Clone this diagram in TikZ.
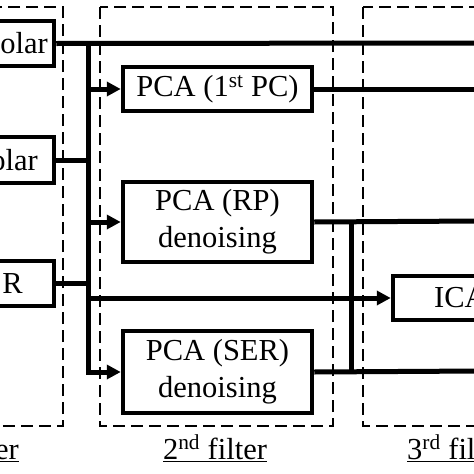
\documentclass[tikz,border=0pt]{standalone}
\usepackage{fontspec}
\setmainfont{Liberation Serif}
\usetikzlibrary{arrows.meta}

\begin{document}
\begin{tikzpicture}[x=1pt,y=-1pt]
\tikzstyle{every node}+=[inner sep=0pt, font=\fontsize{30.5}{37}\selectfont]
\tikzstyle{block}=[draw=black, line width=4.5pt, align=center]
\tikzstyle{filterbox}=[draw=black, line width=1.6pt, dash pattern=on 12pt off 6pt]
\tikzstyle{wire}=[draw=black, line width=5pt]
\tikzstyle{feed}=[wire, -{Triangle[length=14pt,width=14pt]}]
\clip (0,0) rectangle (474,474);
\fill [white] (0,0) rectangle (474,474);
% dashed filter stages
\draw [filterbox] (-100,7) rectangle (63,426);
\draw [filterbox] (100,7) rectangle (333,426);
\draw [filterbox] (363,7) rectangle (570,426);
\node [anchor=base east] (lab1) at (19,459) {\underline{er}};
\node [anchor=base] (lab2) at (215,459) {\underline{2\textsuperscript{nd} filter}};
\node [anchor=base west] (lab3) at (407,459) {\underline{3\textsuperscript{rd} fil}};
% 1st filter
\node [block, minimum width=60pt, minimum height=45pt] (sig1) at (24,43.5) {olar};
\node [block, minimum width=80pt, minimum height=46pt] (sig2) at (14,160) {olar};
\node [block, minimum width=83pt, minimum height=45pt] (sig3) at (12.5,283.5) {R};
% 2nd filter
\node [block, minimum width=189pt, minimum height=44pt] (pc1) at (217.5,89) {PCA (1\textsuperscript{st} PC)};
\node [block, minimum width=189pt, minimum height=80pt] (rp) at (217.5,222) {PCA (RP)\\denoising};
\node [block, minimum width=189pt, minimum height=82pt] (ser) at (217.5,372) {PCA (SER)\\denoising};
% 3rd filter
\node [block, minimum width=135pt, minimum height=44pt] (ica) at (460.5,298) {ICA};
% bus and links
\coordinate (top) at (88,43);
\coordinate (out1) at (480,43);
\coordinate (out2) at (480,89);
\coordinate (out3) at (480,221);
\coordinate (out4) at (480,371);
\coordinate (join) at (351,221);
\draw [wire] (sig1.east) -- (out1);
\draw [feed] (top) |- (ser.west);
\draw [wire] (sig2.east) -- (sig2.east -| top);
\draw [wire] (sig3.east) -- (sig3.east -| top);
\draw [feed] (top |- pc1.west) -- (pc1.west);
\draw [feed] (top |- rp.west) -- (rp.west);
\draw [feed] (top |- ica.west) -- (ica.west);
\draw [wire] (pc1.east) -- (out2);
\draw [wire] (rp.east) -- (out3);
\draw [wire] (ser.east) -- (out4);
\draw [wire] (join) -- (join |- ser.east);
\end{tikzpicture}
\end{document}
